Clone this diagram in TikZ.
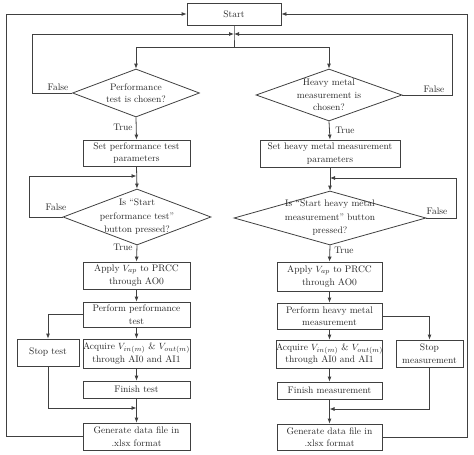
\documentclass[tikz,border=0pt]{standalone}
\usetikzlibrary{shapes.geometric,arrows.meta}
\begin{document}
\begin{tikzpicture}[x=1pt,y=-1pt,
  every node/.style={font=\fontsize{9.5}{12.5}\selectfont, text=black!85},
  box/.style={draw=black!75, line width=0.8pt, rectangle, inner sep=0pt, align=center},
  dia/.style={draw=black!75, line width=0.8pt, diamond, inner sep=0pt},
  lbl/.style={inner sep=0pt},
  ln/.style={draw=black!75, line width=0.8pt},
  arr/.style={ln, -{Latex[length=5pt,width=4pt]}}]
\useasboundingbox (0,0) rectangle (474,455);
% boxes
\node[box, minimum width=94pt, minimum height=22pt] (start) at (234,14) {Start};
\node[box, minimum width=107pt, minimum height=26pt] (setL) at (136.5,153) {Set performance test\\parameters};
\node[box, minimum width=140pt, minimum height=27pt] (setR) at (330,153.5) {Set heavy metal measurement\\parameters};
\node[box, minimum width=107pt, minimum height=27pt] (applyL) at (136.5,275.5) {Apply $V_{ap}$ to PRCC\\through AO0};
\node[box, minimum width=107pt, minimum height=25pt] (perfL) at (136.5,314.5) {Perform performance\\test};
\node[box, minimum width=62pt, minimum height=27pt] (stopL) at (48,352.5) {Stop test};
\node[box, minimum width=107pt, minimum height=29pt] (acqL) at (136.5,353.5) {Acquire $V_{in(m)}$ \& $V_{out(m)}$\\through AI0 and AI1};
\node[box, minimum width=107pt, minimum height=17pt] (finL) at (136.5,389.5) {Finish test};
\node[box, minimum width=107pt, minimum height=27pt] (genL) at (136.5,436.5) {Generate data file in\\.xlsx format};
\node[box, minimum width=105pt, minimum height=29pt] (applyR) at (329.5,276.5) {Apply $V_{ap}$ to PRCC\\through AO0};
\node[box, minimum width=105pt, minimum height=26pt] (perfR) at (329.5,316) {Perform heavy metal\\measurement};
\node[box, minimum width=105pt, minimum height=28pt] (acqR) at (329.5,354) {Acquire $V_{in(m)}$ \& $V_{out(m)}$\\through AI0 and AI1};
\node[box, minimum width=67pt, minimum height=27pt] (stopR) at (429.5,353.5) {Stop\\measurement};
\node[box, minimum width=105pt, minimum height=17pt] (finR) at (329.5,390.5) {Finish measurement};
\node[box, minimum width=105pt, minimum height=26pt] (genR) at (329.5,437) {Generate data file in\\.xlsx format};
% diamonds
\node[dia, minimum width=127pt, minimum height=48pt] (d1) at (136,93) {};
\node[align=center, inner sep=0pt] (d1t) at (d1) {Performance\\test is chosen?};
\node[dia, minimum width=146pt, minimum height=52pt] (d2) at (329,95) {};
\node[align=center, inner sep=0pt] (d2t) at (d2) {Heavy metal\\measurement is\\chosen?};
\node[dia, minimum width=148pt, minimum height=56pt] (d3) at (137,217) {};
\node[align=center, inner sep=0pt, font=\fontsize{9.5}{13.5}\selectfont] (d3t) at (d3) {Is ``Start\\performance test''\\button pressed?};
\node[dia, minimum width=192pt, minimum height=54pt] (d4) at (330,218) {};
\node[align=center, inner sep=0pt, font=\fontsize{9.5}{13.5}\selectfont] (d4t) at (d4) {Is ``Start heavy metal\\measurement'' button\\pressed?};
% labels
\node[lbl] (f1) at (58,87) {False};
\node[lbl] (f2) at (434,89) {False};
\node[lbl] (f3) at (56,207) {False};
\node[lbl] (f4) at (437,211) {False};
\node[lbl] (t1) at (123,127) {True};
\node[lbl] (t2) at (345,130) {True};
\node[lbl] (t3) at (123,247) {True};
\node[lbl] (t4) at (344,250) {True};
% coordinates
\coordinate (j) at (234,47);
\coordinate (m) at (234,34);
\coordinate (oL) at (6,0);
\coordinate (oR) at (467,0);
\coordinate (lf1) at (32,0);
\coordinate (rf1) at (452,0);
\coordinate (lf3) at (29,176);
\coordinate (rf4) at (456,178);
\coordinate (mL) at (136.5,408);
\coordinate (mR) at (329.5,409);
% connectors top
\draw[ln] (start.south) -- (m) -- (j);
\draw[arr] (j) -| (d1.north);
\draw[arr] (j) -| (d2.north);
\draw[arr] (d1.west) -- (d1.west -| lf1) -- (m -| lf1) -- (m);
\draw[arr] (d2.east) -- (d2.east -| rf1) -- (m -| rf1) -- (m);
\draw[arr] (d1.south) -- (setL.north);
\draw[arr] (d2.south) -- (setR.north);
\draw[arr] (setL.south) -- (d3.north);
\draw[arr] (setR.south) -- (d4.north);
\draw[arr] (d3.west) -- (d3.west -| lf3) -- (lf3) -- (lf3 -| setL.south);
\draw[arr] (d4.east) -- (d4.east -| rf4) -- (rf4) -- (rf4 -| setR.south);
\draw[arr] (d3.south) -- (applyL.north);
\draw[arr] (d4.south) -- (applyR.north);
% left column
\draw[arr] (applyL.south) -- (perfL.north);
\draw[arr] (perfL.south) -- (acqL.north);
\draw[arr] (acqL.south) -- (finL.north);
\draw[arr] (finL.south) -- (genL.north);
\draw[arr] (perfL.west) -| (stopL.north);
\draw[arr] (stopL.south) |- (mL);
% right column
\draw[arr] (applyR.south) -- (perfR.north);
\draw[arr] (perfR.south) -- (acqR.north);
\draw[arr] (acqR.south) -- (finR.north);
\draw[arr] (finR.south) -- (genR.north);
\draw[arr] (perfR.east) -| (stopR.north);
\draw[arr] (stopR.south) |- (mR);
% outer loops
\draw[arr] (genL.west) -- (genL.west -| oL) -- (start.west -| oL) -- (start.west);
\draw[arr] (genR.east) -- (genR.east -| oR) -- (start.east -| oR) -- (start.east);
\end{tikzpicture}
\end{document}
